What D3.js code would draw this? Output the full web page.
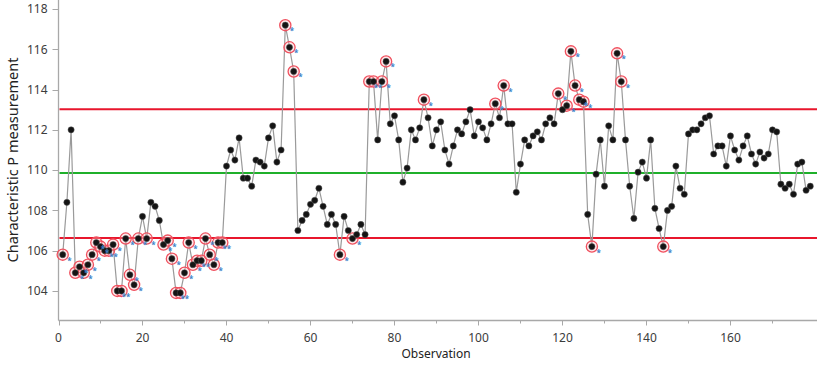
<!DOCTYPE html>
<html>
<head>
<meta charset="utf-8">
<script src="https://cdn.jsdelivr.net/npm/d3@7"></script>
<style>
  body { margin: 0; background: #fff; }
  svg text { font-family: "Segoe UI", "Noto Sans", "Open Sans", sans-serif; }
</style>
</head>
<body>
<svg id="chart" width="817" height="365"></svg>
<script>
// measurements for observations 1..179
const values = [
  105.8, 108.4, 112.0, 104.9, 105.2, 104.9, 105.3, 105.8, 106.4, 106.2,
  106.0, 106.0, 106.3, 104.0, 104.0, 106.6, 104.8, 104.3, 106.6, 107.7,
  106.6, 108.4, 108.2, 107.5, 106.3, 106.5, 105.6, 103.9, 103.9, 104.9,
  106.4, 105.3, 105.5, 105.5, 106.6, 105.8, 105.3, 106.4, 106.4, 110.2,
  111.0, 110.5, 111.6, 109.6, 109.6, 109.2, 110.5, 110.4, 110.2, 111.6,
  112.2, 110.4, 111.0, 117.2, 116.1, 114.9, 107.0, 107.5, 107.8, 108.3,
  108.5, 109.1, 108.2, 107.3, 107.8, 107.3, 105.8, 107.7, 107.0, 106.6,
  106.8, 107.3, 106.8, 114.4, 114.4, 111.5, 114.4, 115.4, 112.3, 112.7,
  111.5, 109.4, 110.1, 112.0, 111.5, 112.1, 113.5, 112.6, 111.2, 112.0,
  112.4, 111.0, 110.3, 111.2, 112.0, 111.8, 112.4, 113.0, 111.7, 112.4,
  112.1, 111.5, 112.3, 113.3, 112.6, 114.2, 112.3, 112.3, 108.9, 110.3,
  111.5, 111.2, 111.7, 111.9, 111.5, 112.3, 112.6, 112.3, 113.8, 113.0,
  113.2, 115.9, 114.2, 113.5, 113.4, 107.8, 106.2, 109.8, 111.5, 109.2,
  112.2, 111.5, 115.8, 114.4, 111.5, 109.2, 107.6, 109.9, 110.4, 109.6,
  111.5, 108.1, 107.1, 106.2, 108.0, 108.2, 110.2, 109.1, 108.8, 111.8,
  112.0, 112.0, 112.3, 112.6, 112.7, 110.8, 111.2, 111.2, 110.2, 111.7,
  111.0, 110.5, 111.2, 111.7, 110.8, 110.3, 110.9, 110.6, 110.8, 112.0,
  111.9, 109.3, 109.1, 109.3, 108.8, 110.3, 110.4, 109.0, 109.2
];

// observations flagged by the control rules
const flagged = [
  1, 4, 5, 6, 7, 8, 9, 10, 11, 12, 13, 14, 15, 16, 17, 18, 19, 21, 25, 26,
  27, 28, 29, 30, 31, 32, 33, 34, 35, 36, 37, 38, 39, 54, 55, 56, 67, 70,
  74, 75, 77, 78, 87, 104, 106, 119, 121, 122, 123, 124, 125, 127, 133, 134, 144
];

const centerLine = 109.86;
const upperLimit = 113.02;
const lowerLimit = 106.63;

const xTicks = [0, 20, 40, 60, 80, 100, 120, 140, 160];
const xMinorTicks = [10, 30, 50, 70, 90, 110, 130, 150, 170];
const yTicks = [104, 106, 108, 110, 112, 114, 116, 118];

const svg = d3.select("#chart");
const x = d3.scaleLinear().domain([0, 180.6]).range([58.5, 817]);
const y = d3.scaleLinear().domain([102.53, 118.45]).range([320.5, 0]);

const points = values.map((v, i) => ({ obs: i + 1, value: v }));
const flaggedSet = new Set(flagged);

const axisColor = "#a8a8a8";
const labelColor = "#3c3c3c";

// x axis
const xAxis = svg.append("g").attr("transform", "translate(0,320.5)");
xAxis.append("line")
    .attr("x1", x(0)).attr("x2", 817)
    .attr("stroke", axisColor).attr("stroke-width", 1.3);
xAxis.selectAll(".xmajor")
    .data(xTicks)
    .enter()
    .append("line")
    .attr("x1", d => Math.round(x(d)) + 0.5).attr("x2", d => Math.round(x(d)) + 0.5)
    .attr("y1", 0).attr("y2", 5)
    .attr("stroke", axisColor);
xAxis.selectAll(".xminor")
    .data(xMinorTicks)
    .enter()
    .append("line")
    .attr("x1", d => Math.round(x(d)) + 0.5).attr("x2", d => Math.round(x(d)) + 0.5)
    .attr("y1", 0).attr("y2", 3)
    .attr("stroke", axisColor);
xAxis.selectAll(".xlabel")
    .data(xTicks)
    .enter()
    .append("text")
    .attr("x", d => x(d))
    .attr("y", 21)
    .attr("text-anchor", "middle")
    .attr("font-size", 12)
    .attr("fill", labelColor)
    .text(d => d);

// y axis
const yAxis = svg.append("g").attr("transform", "translate(58.5,0)");
yAxis.append("line")
    .attr("y1", 0).attr("y2", 320.5)
    .attr("stroke", axisColor).attr("stroke-width", 1.3);
yAxis.selectAll(".ytick")
    .data(yTicks)
    .enter()
    .append("line")
    .attr("x1", -6).attr("x2", 0)
    .attr("y1", d => Math.round(y(d)) + 0.5).attr("y2", d => Math.round(y(d)) + 0.5)
    .attr("stroke", axisColor);
yAxis.selectAll(".ylabel")
    .data(yTicks)
    .enter()
    .append("text")
    .attr("x", -11)
    .attr("y", d => y(d))
    .attr("dy", "0.35em")
    .attr("text-anchor", "end")
    .attr("font-size", 12)
    .attr("fill", labelColor)
    .text(d => d);

// axis titles
svg.append("text")
    .attr("transform", "translate(18,160) rotate(-90)")
    .attr("text-anchor", "middle")
    .attr("font-size", 14.5)
    .attr("fill", "#222")
    .text("Characteristic P measurement");

svg.append("text")
    .attr("x", 436)
    .attr("y", 358)
    .attr("text-anchor", "middle")
    .attr("font-size", 12)
    .attr("fill", "#222")
    .text("Observation");

// control limits and center line
const limits = [
    { v: upperLimit, c: "#e8162c" },
    { v: lowerLimit, c: "#e8162c" },
    { v: centerLine, c: "#1fb02a" }
];
svg.selectAll(".limit")
    .data(limits)
    .enter()
    .append("line")
    .attr("x1", x(0) + 1).attr("x2", 817)
    .attr("y1", d => y(d.v)).attr("y2", d => y(d.v))
    .attr("stroke", d => d.c)
    .attr("stroke-width", 2);

// series line
const line = d3.line().x(d => x(d.obs)).y(d => y(d.value));
svg.append("path")
    .datum(points)
    .attr("d", line)
    .attr("fill", "none")
    .attr("stroke", "#9a9a9a")
    .attr("stroke-width", 1.2);

// flagged rings
const flaggedPts = points.filter(d => flaggedSet.has(d.obs));
svg.selectAll(".ring")
    .data(flaggedPts)
    .enter()
    .append("circle")
    .attr("cx", d => x(d.obs))
    .attr("cy", d => y(d.value))
    .attr("r", 5.6)
    .attr("fill", "rgba(255,190,195,0.35)")
    .attr("stroke", "#f0505e")
    .attr("stroke-width", 1.3);

// points
svg.selectAll(".dot")
    .data(points)
    .enter()
    .append("circle")
    .attr("cx", d => x(d.obs))
    .attr("cy", d => y(d.value))
    .attr("r", 3.1)
    .attr("fill", "#141414")
    .attr("stroke", "#555")
    .attr("stroke-width", 0.5);

// rule markers
svg.selectAll(".flag")
    .data(flaggedPts)
    .enter()
    .append("text")
    .attr("x", d => x(d.obs) + 4.5)
    .attr("y", d => y(d.value) + 9)
    .attr("font-size", 8)
    .attr("font-weight", "bold")
    .attr("fill", "#3d82c8")
    .text("*");
</script>
</body>
</html>
